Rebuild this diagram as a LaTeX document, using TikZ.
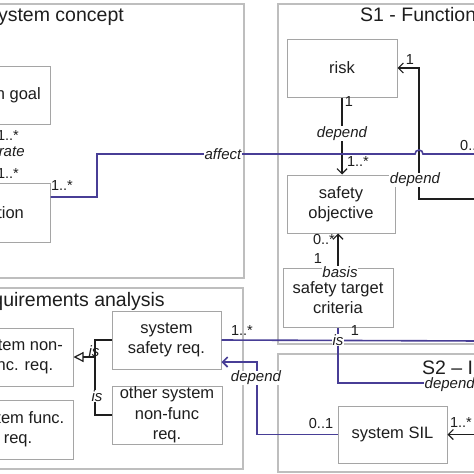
\documentclass[tikz,border=0pt]{standalone}
\usepackage{fontspec}
\setmainfont{Liberation Sans}
\usetikzlibrary{arrows.meta}
\definecolor{bluel}{RGB}{72,62,150}
\definecolor{framec}{RGB}{190,190,190}
\definecolor{boxc}{RGB}{165,165,165}
\definecolor{ink}{RGB}{30,30,30}
\tikzset{
 frame/.style={draw=framec, line width=1.2pt, inner sep=0pt},
 box/.style={draw=boxc, line width=1pt, fill=white, align=center, font=\fontsize{16.5}{20}\selectfont, text=ink, minimum width=110pt, minimum height=58pt, inner sep=0pt},
 ttl/.style={font=\fontsize{19.5}{22}\selectfont, text=ink, inner sep=0pt},
 lbl/.style={font=\fontsize{15}{17}\selectfont\itshape, text=ink, inner sep=0.5pt},
 mult/.style={font=\fontsize{14.5}{17}\selectfont, text=ink, inner sep=0pt},
 blk/.style={draw=ink, line width=1.2pt},
 blu/.style={draw=bluel, line width=1.6pt},
 tip/.style={-{Straight Barb[length=5pt,width=10pt]}},
 gen/.style={-{Triangle[open, length=10pt, width=10pt]}}
}
\begin{document}
\begin{tikzpicture}[x=1pt,y=-1pt]
\useasboundingbox (0,0) rectangle (474,474);
\clip (0,0) rectangle (474,474);
\fill[white] (0,0) rectangle (474,474);
% frames
\node[frame, minimum width=264pt, minimum height=274pt] (f1) at (112,141) {};
\node[ttl, anchor=base east] (t1) at (124,21) {system concept};
\node[frame, minimum width=242pt, minimum height=340pt] (f2) at (399,174) {};
\node[ttl, anchor=base west] (t2) at (360,21.5) {S1 - Functional safety};
\node[frame, minimum width=263pt, minimum height=181pt] (f3) at (111.5,378.5) {};
\node[ttl, anchor=base east] (t3) at (165,306) {requirements analysis};
\node[frame, minimum width=242pt, minimum height=118pt] (f4) at (399,413) {};
\node[ttl, anchor=base west] (t4) at (422,374) {S2 – Implementation};
% boxes
\node[box] (goal) at (-5,95) {mission goal};
\node[box, minimum height=59pt] (fn) at (-5,212.5) {function};
\node[box] (risk) at (342,68) {risk};
\node[box, minimum width=108pt] (so) at (341,204) {safety\\objective};
\node[box, minimum height=59pt] (stc) at (338,297.5) {safety target\\criteria};
\node[box, minimum width=109pt, minimum height=57pt] (sil) at (392.5,434.5) {system SIL};
\node[box, minimum width=109pt] (ssr) at (166.5,340) {system\\safety req.};
\node[box, font=\fontsize{16.5}{20.5}\selectfont] (osn) at (167,415) {other system\\non-func\\req.};
\node[box] (snf) at (18,357) {system non-\\func. req.};
\node[box, minimum height=59pt] (sf) at (18,429.5) {system func.\\req.};
% goal - function
\draw[blk] (goal.south) -- node[lbl, fill=white] {generate} (fn.north);
\node[mult, anchor=east] at (19,136) {1..*};
\node[mult, anchor=east] at (19,174) {1..*};
% risk -> safety objective
\draw[blk, tip] (risk.south) -- node[lbl, fill=white, pos=0.47] {depend} (risk.south |- so.north);
\node[mult] at (349,102) {1};
\node[mult] at (358,162) {1..*};
% safety target criteria -> safety objective
\draw[blk, tip] (stc.north) -- (stc.north |- so.south);
\node[lbl, fill=white, anchor=base] at (340,277) {basis};
\node[mult] at (324,240) {0..*};
\node[mult] at (318,259) {1};
% depend -> risk
\coordinate (b1) at (480,199);
\coordinate (b2) at (419,199);
\draw[blk, tip] (b1) -- (b2) -- (b2 |- risk.east) -- (risk.east);
\node[lbl, fill=white] at (415,180) {depend};
\node[mult] at (410,60) {1};
% affect
\coordinate (a1) at (97,197);
\coordinate (a2) at (97,154);
\coordinate (hp) at (415,154);
\coordinate (e1) at (480,154);
\draw[blu] (fn.east |- a1) -- (a1) -- (a2) -- (hp) arc (180:360:4) -- (e1);
\node[lbl, fill=white] at (223,154) {affect};
\node[mult] at (62,186) {1..*};
\node[mult, anchor=west] at (460,146) {0..*};
% is
\coordinate (c1) at (480,341);
\draw[blu] (ssr.east) -- (c1);
\node[mult] at (242,331) {1..*};
% stc depend
\coordinate (d1) at (338,383);
\coordinate (d2) at (480,383);
\draw[blu] (stc.south) -- (stc.south |- d1) -- (d2);
\node[mult] at (355,331) {1};
\node[lbl, fill=white, anchor=west] at (424,385) {depend};
\node[lbl, fill=white] at (338,340) {is};
% system SIL depend
\coordinate (jd) at (257,362);
\draw[blu, tip] (sil.west) -| (jd) -- (jd -| ssr.east);
\node[lbl, fill=white] at (256,378) {depend};
\node[mult] at (321,424) {0..1};
% into system SIL
\coordinate (g1) at (480,434.5);
\draw[blk, tip] (g1) -- (sil.east);
\node[mult] at (461,423) {1..*};
% generalization
\coordinate (jg) at (95,357);
\draw[blk, gen] (ssr.west) -| (jg) -- (snf.east);
\draw[blk] (osn.west) -| (jg);
\node[lbl] at (94,351) {is};
\node[lbl, fill=white] at (97,396) {is};
\end{tikzpicture}
\end{document}
